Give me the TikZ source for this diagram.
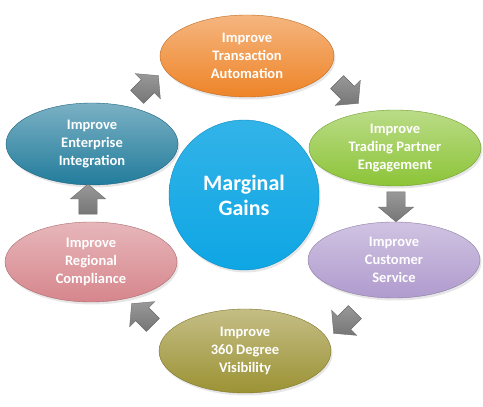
\documentclass[tikz,border=0pt]{standalone}
\usepackage{fontspec}
\setmainfont{Carlito}
\usetikzlibrary{shapes.geometric,shapes.arrows,shadows,positioning,calc}
\definecolor{colOrange}{RGB}{238,132,40}
\definecolor{colVert}{RGB}{140,196,55}
\definecolor{colMauve}{RGB}{176,155,206}
\definecolor{colOlive}{RGB}{156,146,52}
\definecolor{colRose}{RGB}{214,134,140}
\definecolor{colSarcelle}{RGB}{34,124,156}
\definecolor{colBleu}{RGB}{14,166,228}
\definecolor{colGris}{RGB}{118,118,118}

\begin{document}
\begin{tikzpicture}[x=1pt,y=1pt,
    font=\bfseries\fontsize{14.5}{18}\selectfont,
    ell/.style={ellipse, draw=#1!80!black, top color=#1!60!white,
      bottom color=#1, text=white, align=center, inner sep=0pt,
      minimum width=172pt, minimum height=80pt,
      drop shadow={opacity=0.2, shadow xshift=1.5pt, shadow yshift=-2.5pt}},
    fleche/.style={single arrow, draw=colGris!90!black, top color=colGris!75,
      bottom color=colGris, minimum height=30pt, inner sep=9pt,
      single arrow head extend=8.5pt, single arrow tip angle=100}]
    \useasboundingbox (0,0) rectangle (483,407);
    % ellipses around the centre
    \node[ell=colOrange, minimum width=174pt, minimum height=82pt]
      (trans) at (247,351) {Improve\\ Transaction\\ Automation};
    \node[ell=colVert, minimum height=76pt]
      (trad) at (395,259) {Improve\\ Trading Partner\\ Engagement};
    \node[ell=colMauve, minimum height=76pt]
      (cust) at (394,147) {Improve\\ Customer\\ Service};
    \node[ell=colOlive, minimum height=84pt]
      (visi) at (245,56) {Improve\\ 360 Degree\\ Visibility};
    \node[ell=colRose]
      (regi) at (91,145) {Improve\\ Regional\\ Compliance};
    \node[ell=colSarcelle, minimum height=82pt]
      (entr) at (92,263) {Improve\\ Enterprise\\ Integration};
    % centre
    \node[circle, draw=colBleu!85!black, top color=colBleu!85!white,
      bottom color=colBleu, text=white, align=center, minimum size=150pt,
      font=\bfseries\fontsize{22}{25}\selectfont,
      drop shadow={opacity=0.2, shadow xshift=1.5pt, shadow yshift=-2.5pt}]
      (marg) at (244,212) {Marginal\\ Gains};
    % block arrows
    \node[fleche, rotate=45] (f1) at (145,318) {};
    \node[fleche, rotate=-45] (f2) at (345,317) {};
    \node[fleche, rotate=-90] (f3) at (396,204) {};
    \node[fleche, rotate=-135] (f4) at (347,87) {};
    \node[fleche, rotate=135] (f5) at (145,90) {};
    \node[fleche, rotate=90] (f6) at (88,204) {};
  \end{tikzpicture}
\end{document}
